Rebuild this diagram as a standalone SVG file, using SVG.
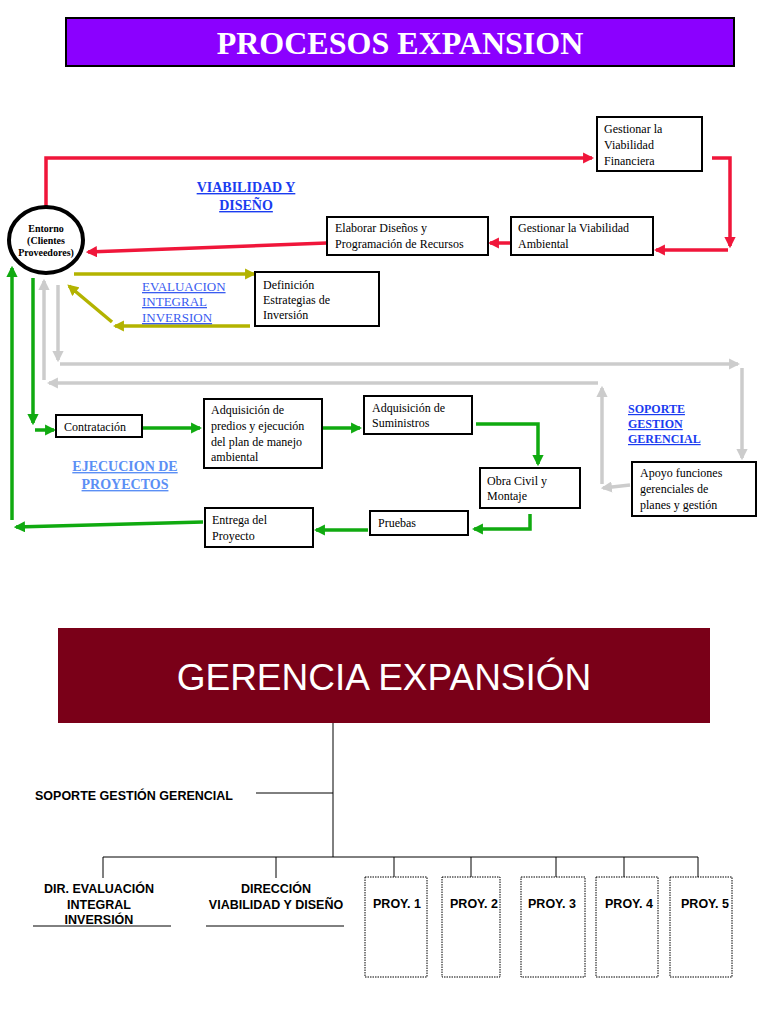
<svg xmlns="http://www.w3.org/2000/svg" width="768" height="1024" viewBox="0 0 768 1024">
<defs>
<marker id="ar" viewBox="0 0 10 10" refX="8" refY="5" markerWidth="3.2" markerHeight="3.2" orient="auto"><path d="M0,0L10,5L0,10z" fill="#f0163a"/></marker>
<marker id="ao" viewBox="0 0 10 10" refX="8" refY="5" markerWidth="3.2" markerHeight="3.2" orient="auto"><path d="M0,0L10,5L0,10z" fill="#b3b300"/></marker>
<marker id="ag" viewBox="0 0 10 10" refX="8" refY="5" markerWidth="3.2" markerHeight="3.2" orient="auto"><path d="M0,0L10,5L0,10z" fill="#cccccc"/></marker>
<marker id="av" viewBox="0 0 10 10" refX="8" refY="5" markerWidth="3.2" markerHeight="3.2" orient="auto"><path d="M0,0L10,5L0,10z" fill="#10aa10"/></marker>
</defs>
<style>
.b{fill:#fff;stroke:#000;stroke-width:2}
.t{font-family:"Liberation Serif",serif;font-size:12px;fill:#000}
.r{fill:none;stroke:#f0163a;stroke-width:3.5;marker-end:url(#ar)}
.o{fill:none;stroke:#b3b300;stroke-width:3.5;marker-end:url(#ao)}
.g{fill:none;stroke:#cccccc;stroke-width:3.5;marker-end:url(#ag)}
.v{fill:none;stroke:#10aa10;stroke-width:3.5;marker-end:url(#av)}
.lk{font-family:"Liberation Serif",serif;text-decoration:underline}
.s{font-family:"Liberation Sans",Arial,sans-serif;font-weight:bold;font-size:12.5px;fill:#000}
.ln{stroke:#000;stroke-width:1;fill:none}
.d{fill:#fff;stroke:#000;stroke-width:1;stroke-dasharray:1.5 1}
</style>
<rect width="768" height="1024" fill="#fff"/>
<g id="title"><rect x="66" y="18" width="668" height="48" fill="#8b00ff" stroke="#000" stroke-width="2"/>
<text x="400" y="54" text-anchor="middle" font-family="Liberation Serif,serif" font-weight="bold" font-size="32" fill="#fff">PROCESOS EXPANSION</text></g>

<g id="connectors">
<polyline class="r" points="46,206 46,158 592,158"/>
<polyline class="r" points="712,158 730,158 730,246"/>
<line class="r" x1="728" y1="250" x2="656" y2="250"/>
<line class="r" x1="511" y1="243" x2="490" y2="243"/>
<line class="r" x1="327" y1="243" x2="88" y2="252"/>
<line class="o" x1="74" y1="274" x2="254" y2="274"/>
<line class="o" x1="250" y1="326" x2="115" y2="326"/>
<line class="o" x1="112" y1="322" x2="69" y2="286"/>
<line class="g" x1="58" y1="285" x2="58" y2="360"/>
<line class="g" x1="60" y1="364" x2="738" y2="364"/>
<line class="g" x1="742" y1="368" x2="742" y2="458"/>
<line class="g" x1="630" y1="485" x2="603" y2="488"/>
<line class="g" x1="602" y1="484" x2="602" y2="388"/>
<line class="g" x1="598" y1="383" x2="49" y2="383"/>
<line class="g" x1="44" y1="380" x2="44" y2="281"/>
<line class="v" x1="33" y1="278" x2="33" y2="423"/>
<line class="v" x1="35" y1="430" x2="54" y2="430"/>
<line class="v" x1="142" y1="428" x2="200" y2="428"/>
<line class="v" x1="322" y1="428" x2="360" y2="428"/>
<polyline class="v" points="476,424 538,424 538,464"/>
<polyline class="v" points="530,514 530,529 474,529"/>
<line class="v" x1="368" y1="530" x2="316" y2="530"/>
<line class="v" x1="203" y1="522" x2="16" y2="527"/>
<line class="v" x1="12" y1="520" x2="12" y2="268"/>
</g>

<g id="entorno"><ellipse cx="46" cy="240" rx="37" ry="33" fill="#fff" stroke="#000" stroke-width="4"/>
<text x="46" y="232" text-anchor="middle" font-family="Liberation Serif,serif" font-weight="bold" font-size="10">Entorno</text>
<text x="46" y="244" text-anchor="middle" font-family="Liberation Serif,serif" font-weight="bold" font-size="10">(Clientes</text>
<text x="46" y="256" text-anchor="middle" font-family="Liberation Serif,serif" font-weight="bold" font-size="10">Proveedores)</text></g>

<g id="fin"><rect class="b" x="597" y="117" width="105" height="54"/><text class="t" x="604" y="133">Gestionar la</text><text class="t" x="604" y="149">Viabilidad</text><text class="t" x="604" y="165">Financiera</text></g>
<g id="amb"><rect class="b" x="511" y="217" width="142" height="38"/><text class="t" x="518" y="232">Gestionar la Viabilidad</text><text class="t" x="518" y="248">Ambiental</text></g>
<g id="dis"><rect class="b" x="327" y="217" width="161" height="38"/><text class="t" x="335" y="232">Elaborar Diseños y</text><text class="t" x="335" y="248">Programación de Recursos</text></g>
<g id="def"><rect class="b" x="255" y="272" width="124" height="54"/><text class="t" x="263" y="289">Definición</text><text class="t" x="263" y="304">Estrategias de</text><text class="t" x="263" y="319">Inversión</text></g>
<g id="apoyo"><rect class="b" x="632" y="462" width="124" height="54"/><text class="t" x="640" y="477">Apoyo funciones</text><text class="t" x="640" y="493">gerenciales de</text><text class="t" x="640" y="509">planes y gestión</text></g>
<g id="contr"><rect class="b" x="56" y="415" width="86" height="22"/><text class="t" x="64" y="431">Contratación</text></g>
<g id="pred"><rect class="b" x="204" y="399" width="118" height="69"/><text class="t" x="211" y="414">Adquisición de</text><text class="t" x="211" y="430">predios y ejecución</text><text class="t" x="211" y="446">del plan de manejo</text><text class="t" x="211" y="461">ambiental</text></g>
<g id="sum"><rect class="b" x="364" y="396" width="108" height="38"/><text class="t" x="372" y="412">Adquisición de</text><text class="t" x="372" y="427">Suministros</text></g>
<g id="obra"><rect class="b" x="480" y="468" width="100" height="40"/><text class="t" x="487" y="485">Obra Civil y</text><text class="t" x="487" y="500">Montaje</text></g>
<g id="prue"><rect class="b" x="370" y="511" width="98" height="24"/><text class="t" x="378" y="527">Pruebas</text></g>
<g id="ent"><rect class="b" x="205" y="508" width="108" height="39"/><text class="t" x="212" y="524">Entrega del</text><text class="t" x="212" y="540">Proyecto</text></g>

<g id="labels">
<text class="lk" x="246" y="192" text-anchor="middle" font-size="14" font-weight="bold" fill="#1a3cf0">VIABILIDAD Y</text>
<text class="lk" x="246" y="210" text-anchor="middle" font-size="14" font-weight="bold" fill="#1a3cf0">DISEÑO</text>
<text class="lk" x="142" y="291" font-size="13" fill="#3a5cf0">EVALUACION</text>
<text class="lk" x="142" y="306" font-size="13" fill="#3a5cf0">INTEGRAL</text>
<text class="lk" x="142" y="322" font-size="13" fill="#3a5cf0">INVERSION</text>
<text class="lk" x="125" y="471" text-anchor="middle" font-size="14" font-weight="bold" fill="#5b8ff5">EJECUCION DE</text>
<text class="lk" x="125" y="489" text-anchor="middle" font-size="14" font-weight="bold" fill="#5b8ff5">PROYECTOS</text>
<text class="lk" x="628" y="413" font-size="12" font-weight="bold" fill="#1a3cf0">SOPORTE</text>
<text class="lk" x="628" y="428" font-size="12" font-weight="bold" fill="#1a3cf0">GESTION</text>
<text class="lk" x="628" y="443" font-size="12" font-weight="bold" fill="#1a3cf0">GERENCIAL</text>
</g>

<g id="gerencia"><rect x="58" y="628" width="652" height="95" fill="#7a0018"/>
<text x="384" y="690" text-anchor="middle" font-family="Liberation Sans,Arial,sans-serif" font-size="37" fill="#fff">GERENCIA EXPANSIÓN</text></g>
<g id="org-lines">
<path class="ln" d="M333,723V857M256,793H333M103,857H698M103,857V878M276,857V878M394,857V878M471,857V878M556,857V878M624,857V878M698,857V878"/>
</g>
<g id="soporte"><text class="s" x="35" y="800">SOPORTE GESTIÓN GERENCIAL</text></g>
<g id="direval"><text class="s" x="99" y="893" text-anchor="middle">DIR. EVALUACIÓN</text><text class="s" x="99" y="909" text-anchor="middle">INTEGRAL</text><text class="s" x="99" y="924" text-anchor="middle">INVERSIÓN</text><line class="ln" x1="33" y1="926" x2="171" y2="926"/></g>
<g id="dirviab"><text class="s" x="276" y="893" text-anchor="middle">DIRECCIÓN</text><text class="s" x="276" y="909" text-anchor="middle">VIABILIDAD Y DISEÑO</text><line class="ln" x1="206" y1="926" x2="344" y2="926"/></g>
<g id="p1"><rect class="d" x="365" y="877" width="62" height="100"/><text class="s" x="397" y="908" text-anchor="middle">PROY. 1</text></g>
<g id="p2"><rect class="d" x="442" y="877" width="58" height="100"/><text class="s" x="474" y="908" text-anchor="middle">PROY. 2</text></g>
<g id="p3"><rect class="d" x="521" y="877" width="64" height="100"/><text class="s" x="552" y="908" text-anchor="middle">PROY. 3</text></g>
<g id="p4"><rect class="d" x="596" y="877" width="62" height="100"/><text class="s" x="629" y="908" text-anchor="middle">PROY. 4</text></g>
<g id="p5"><rect class="d" x="670" y="877" width="62" height="100"/><text class="s" x="705" y="908" text-anchor="middle">PROY. 5</text></g>
</svg>
